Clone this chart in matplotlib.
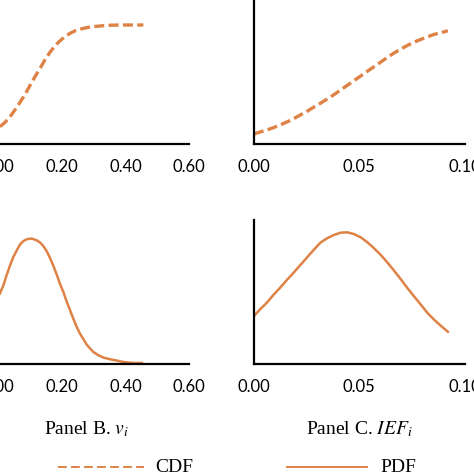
import matplotlib.pyplot as plt
from matplotlib.lines import Line2D

plt.rcParams['mathtext.fontset'] = 'stix'

# Panel B: v_i  (CDF and PDF)
v_cdf_x = [0.006, 0.022, 0.038, 0.053, 0.069, 0.085, 0.100, 0.116, 0.132, 0.147, 0.163, 0.179,
           0.194, 0.210, 0.226, 0.241, 0.257, 0.273, 0.289, 0.320, 0.351, 0.383, 0.456]
v_cdf_y = [0.145, 0.182, 0.229, 0.286, 0.350, 0.418, 0.490, 0.566, 0.636, 0.706, 0.771, 0.826,
           0.866, 0.902, 0.930, 0.950, 0.964, 0.975, 0.983, 0.992, 0.998, 1.0, 1.0]
v_pdf_x = [0.006, 0.017, 0.027, 0.038, 0.048, 0.059, 0.069, 0.079, 0.090, 0.105, 0.121, 0.132,
           0.142, 0.153, 0.163, 0.174, 0.184, 0.194, 0.205, 0.215, 0.226, 0.236, 0.247, 0.257,
           0.268, 0.278, 0.289, 0.299, 0.315, 0.330, 0.351, 0.372, 0.393, 0.425, 0.451]
v_pdf_y = [2.80, 3.13, 3.53, 3.93, 4.26, 4.53, 4.76, 4.89, 4.97, 5.0, 4.93, 4.84,
           4.70, 4.49, 4.22, 3.90, 3.56, 3.20, 2.86, 2.49, 2.13, 1.80, 1.46, 1.20,
           0.97, 0.76, 0.60, 0.46, 0.33, 0.24, 0.17, 0.12, 0.06, 0.02, 0.02]

# Panel C: IEF_i
ief_x = [0.0, 0.0029, 0.0061, 0.0092, 0.0124, 0.0156, 0.0188, 0.0220, 0.0252, 0.0283,
         0.0315, 0.0347, 0.0379, 0.0411, 0.0443, 0.0474, 0.0506, 0.0538, 0.0570, 0.0602,
         0.0634, 0.0665, 0.0697, 0.0729, 0.0761, 0.0793, 0.0825, 0.0856, 0.0888, 0.0920]
ief_cdf_y = [0.084, 0.101, 0.118, 0.137, 0.160, 0.185, 0.213, 0.244, 0.275, 0.309,
             0.342, 0.378, 0.414, 0.454, 0.493, 0.532, 0.571, 0.611, 0.650, 0.689,
             0.729, 0.765, 0.798, 0.829, 0.857, 0.880, 0.902, 0.922, 0.935, 0.952]
ief_pdf_y = [6.86, 7.81, 8.76, 9.86, 10.9, 12.0, 13.04, 14.14, 15.24, 16.29,
             17.33, 17.96, 18.43, 18.76, 18.81, 18.57, 18.1, 17.39, 16.53, 15.57,
             14.47, 13.33, 12.1, 10.81, 9.61, 8.43, 7.24, 6.29, 5.43, 4.61]

v_ticks = [0.0, 0.2, 0.4, 0.6]
ief_ticks = [0.0, 0.05, 0.10]

orange = '#DE8246'
W = H = 474.0


def box(x0, x1, ytop, ybot):
    # pixel box -> figure fraction
    return [x0 / W, 1 - ybot / H, (x1 - x0) / W, (ybot - ytop) / H]


fig = plt.figure(figsize=(4.74, 4.74), dpi=100)

axes = {
    'vc': fig.add_axes(box(-2, 189.3, 0, 144)),
    'ic': fig.add_axes(box(254, 464.7, 0, 144)),
    'vp': fig.add_axes(box(-2, 189.3, 220, 363.5)),
    'ip': fig.add_axes(box(254, 464.7, 220, 364)),
}

axes['vc'].plot(v_cdf_x, v_cdf_y, color=orange, lw=2.4, ls=(0, (3, 1.3)))
axes['ic'].plot(ief_x, ief_cdf_y, color=orange, lw=2.4, ls=(0, (3, 1.3)))
axes['vp'].plot(v_pdf_x, v_pdf_y, color=orange, lw=1.8)
axes['ip'].plot(ief_x, ief_pdf_y, color=orange, lw=1.8)

axes['vc'].set_ylim(0, 144 / 119)
axes['ic'].set_ylim(0, 144 / 119)
axes['vp'].set_ylim(0, 143.5 / 25)
axes['ip'].set_ylim(0, 144 / 7)

for key, ax in axes.items():
    if key.startswith('v'):
        ax.set_xlim(0, 0.6)
        ax.set_xticks(v_ticks)
        ax.set_xticklabels(['0.00', '0.20', '0.40', '0.60'])
    else:
        ax.set_xlim(0, 0.10)
        ax.set_xticks(ief_ticks)
        ax.set_xticklabels(['0.00', '0.05', '0.10'])
    ax.set_yticks([])
    ax.spines['top'].set_visible(False)
    ax.spines['right'].set_visible(False)
    ax.spines['left'].set_linewidth(1.6)
    ax.spines['bottom'].set_linewidth(1.6)
    ax.tick_params(axis='x', length=0, pad=11, labelsize=12)
    for lab in ax.get_xticklabels():
        lab.set_family('Lato')
    ax.patch.set_alpha(0)

serif = 'Liberation Serif'
fig.text(87 / W, 1 - 429 / H, r'Panel B. $v_i$', ha='center', va='center',
         fontsize=14, family=serif)
fig.text(359 / W, 1 - 429 / H, r'Panel C. $IEF_i$', ha='center', va='center',
         fontsize=14, family=serif)

# legend along the bottom edge
y_leg = 1 - 467 / H
fig.add_artist(Line2D([58 / W, 144 / W], [y_leg, y_leg], color=orange, lw=1.4,
                      ls=(0, (4.5, 2.2))))
fig.text(155 / W, y_leg, 'CDF', ha='left', va='center', fontsize=14, family=serif)
fig.add_artist(Line2D([287 / W, 367 / W], [y_leg, y_leg], color=orange, lw=1.4))
fig.text(380 / W, y_leg, 'PDF', ha='left', va='center', fontsize=14, family=serif)

fig.savefig('out.png', dpi=100)
